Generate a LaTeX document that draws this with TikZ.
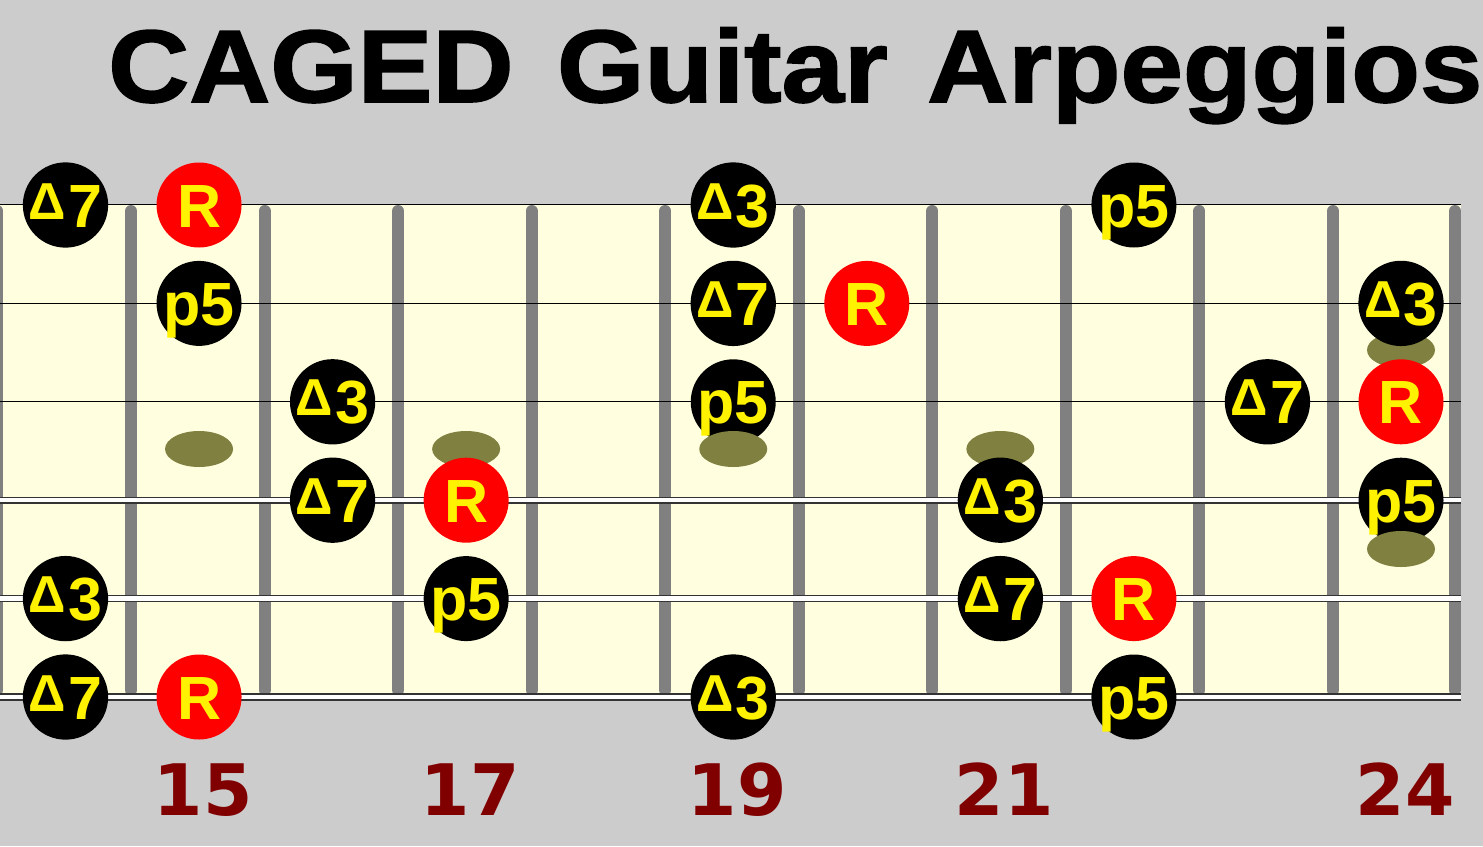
\documentclass[tikz,border=0pt]{standalone}
\usepackage{fontspec}
\setmainfont{Liberation Sans}
\newfontfamily\numfont{DejaVu Sans}
\newfontfamily\titlefont{Liberation Sans}[FakeStretch=1.09,FakeBold=1.6]
\definecolor{sfondo}{HTML}{CCCCCC}
\definecolor{legno}{HTML}{FFFFE0}
\definecolor{tastiera}{HTML}{808080}
\definecolor{segnale}{HTML}{808040}
\definecolor{numero}{HTML}{800000}
\newcommand{\magg}[1]{\raisebox{8pt}{\fontsize{52}{52}\selectfont Δ}\kern2pt#1}
\begin{document}
\begin{tikzpicture}[x=1pt,y=-1pt,font=\bfseries,
  nota/.style={circle, fill=black, text=yellow, inner sep=0pt, minimum size=85pt,
    text height=44pt, text depth=0pt, font=\fontsize{61}{61}\selectfont\bfseries},
  radice/.style={nota, fill=red},
  segno/.style={fill=segnale},
  tasto/.style={draw=tastiera, line width=12pt, line cap=round}]
\pgfmathsetmacro{\passo}{133.55}
\useasboundingbox[fill=sfondo] (0,0) rectangle (1483,846);

% tastiera
\fill[legno] (0,204) rectangle (1461,697);
\foreach \k in {-1,...,9}
  \draw[tasto] (131+\k*\passo,211) -- (131+\k*\passo,690);
\draw[tasto] (1455,211) -- (1455,690);

% corde
\draw[line width=1.5pt] (0,204.5) -- (1461,204.5);
\foreach \s in {2,3}
  \draw[line width=1.2pt] (0,205+98.4*\s-98.4) -- (1461,205+98.4*\s-98.4);
\foreach \s in {4,5,6}
  \draw[draw=black!80, double=white, double distance=4.5pt, line width=1.3pt]
    (0,205+98.4*\s-98.4) -- (1461,205+98.4*\s-98.4);

% segni
\fill[segno] (1401,350) ellipse [x radius=34, y radius=18];

\foreach \s/\lista in {1/{14/\magg{7}/nota,15/R/radice,19/\magg{3}/nota,22/p5/nota},
    2/{15/p5/nota,19/\magg{7}/nota,20/R/radice,24/\magg{3}/nota},
    3/{16/\magg{3}/nota,19/p5/nota,23/\magg{7}/nota,24/R/radice}}
  \foreach \f/\t/\st in \lista
    \node[\st] (n-\s-\f) at (65.5+\passo*\f-\passo*14,205+98.4*\s-98.4) {\t};

\foreach \f in {15,17,19,21}
  \fill[segno] (65.5+\passo*\f-\passo*14,449) ellipse [x radius=34, y radius=18];

\foreach \f/\t/\st in {16/\magg{7}/nota,17/R/radice,21/\magg{3}/nota,24/p5/nota}
  \node[\st] (n-4-\f) at (65.5+\passo*\f-\passo*14,500.2) {\t};

\fill[segno] (1401,549) ellipse [x radius=34, y radius=18];

\foreach \s/\lista in {5/{14/\magg{3}/nota,17/p5/nota,21/\magg{7}/nota,22/R/radice},
    6/{14/\magg{7}/nota,15/R/radice,19/\magg{3}/nota,22/p5/nota}}
  \foreach \f/\t/\st in \lista
    \node[\st] (n-\s-\f) at (65.5+\passo*\f-\passo*14,205+98.4*\s-98.4) {\t};

% numeri dei tasti
\foreach \f in {15,17,19,21,24}
  \node[anchor=base, text=numero, font=\numfont\bfseries\fontsize{71}{71}\selectfont]
    (num-\f) at (69.5+\passo*\f-\passo*14,815) {\f};

\node[anchor=base west, inner sep=0pt, font=\titlefont\bfseries\fontsize{103}{103}\selectfont]
  (titolo) at (108,102) {CAGED\hspace{0.12em} Guitar\hspace{0.08em} Arpeggios};
\end{tikzpicture}
\end{document}
